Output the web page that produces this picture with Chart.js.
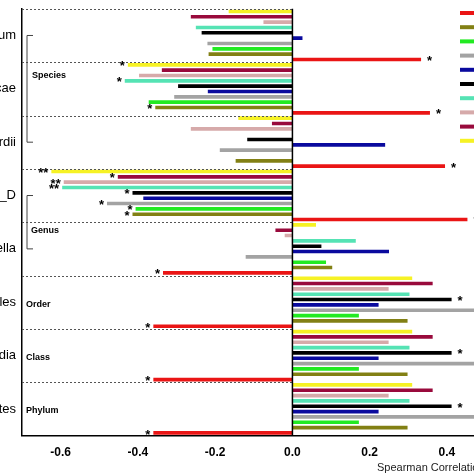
<!DOCTYPE html>
<html><head>
<script src="https://cdn.jsdelivr.net/npm/chart.js@4"></script>
<style>html,body{margin:0;padding:0;background:#fff}#wrap{width:474px;height:474px}</style>
</head><body>
<div id="wrap"><canvas id="grafico"></canvas></div>
<script>
const categorias = ["um", "cae", "rdii", "_D", "ella", "les", "dia", "tes"];
const grupos = [
  {label: "Species", from: 0, to: 2},
  {label: "Genus", from: 3, to: 4}
];
const nivelesSolos = [{label: "Order", at: 5}, {label: "Class", at: 6}, {label: "Phylum", at: 7}];

// series, orden de arriba hacia abajo dentro de cada grupo
const amarillo = [-0.165, -0.426, -0.14, -0.624, 0.061, 0.31, 0.31, 0.31];
const granate  = [-0.263, -0.338, -0.053, -0.452, -0.044, 0.363, 0.363, 0.363];
const rosa     = [-0.075, -0.397, -0.263, -0.592, -0.02, 0.249, 0.249, 0.249];
const turquesa = [-0.25, -0.434, 0, -0.596, 0.164, 0.303, 0.303, 0.303];
const negro    = [-0.235, -0.296, -0.117, -0.414, 0.075, 0.412, 0.412, 0.412];
const azul     = [0.026, -0.219, 0.24, -0.386, 0.25, 0.223, 0.223, 0.223];
const gris     = [-0.22, -0.306, -0.188, -0.48, -0.121, 0.5, 0.5, 0.5];
const verde    = [-0.207, -0.372, 0, -0.406, 0.087, 0.172, 0.172, 0.172];
const oliva    = [-0.217, -0.355, -0.147, -0.414, 0.103, 0.298, 0.298, 0.298];
const rojo     = [0.333, 0.356, 0.395, 0.453, -0.335, -0.36, -0.36, -0.36];

const sigAmarillo = ["", "*", "", "**", "", "", "", ""];
const sigGranate  = ["", "", "", "*", "", "", "", ""];
const sigRosa     = ["", "", "", "**", "", "", "", ""];
const sigTurquesa = ["", "*", "", "**", "", "", "", ""];
const sigNegro    = ["", "", "", "*", "", "*", "*", "*"];
const sigAzul     = ["", "", "", "", "", "", "", ""];
const sigGris     = ["", "", "", "*", "", "", "", ""];
const sigVerde    = ["", "", "", "*", "", "", "", ""];
const sigOliva    = ["", "*", "", "*", "", "", "", ""];
const sigRojo     = ["*", "*", "*", "*", "*", "*", "*", "*"];

const xTicks = [-0.6, -0.4, -0.2, 0.0, 0.2, 0.4];

const series = [
  {data: amarillo, sig: sigAmarillo, color: "#f6f224"},
  {data: granate, sig: sigGranate, color: "#990a3c"},
  {data: rosa, sig: sigRosa, color: "#d6aaaa"},
  {data: turquesa, sig: sigTurquesa, color: "#55e3b4"},
  {data: negro, sig: sigNegro, color: "#000000"},
  {data: azul, sig: sigAzul, color: "#0a0a9e"},
  {data: gris, sig: sigGris, color: "#a3a3a3"},
  {data: verde, sig: sigVerde, color: "#22ea22"},
  {data: oliva, sig: sigOliva, color: "#828014"},
  {data: rojo, sig: sigRojo, color: "#ea1515"}
];
const ordenLeyenda = [9, 8, 7, 6, 5, 4, 3, 2, 1, 0];

const extras = {
  id: "extras",
  afterDatasetsDraw(chart) {
    const ctx = chart.ctx, a = chart.chartArea;
    const x = chart.scales.x, y = chart.scales.y;
    const x0 = x.getPixelForValue(0);
    ctx.save();
    // lineas punteadas entre grupos
    ctx.strokeStyle = "#555"; ctx.lineWidth = 1; ctx.setLineDash([2, 2]);
    for (let i = 0; i < categorias.length; i++) {
      const yy = Math.round(y.getPixelForValue(i) - (y.getPixelForValue(1) - y.getPixelForValue(0)) / 2) + 0.5;
      ctx.beginPath(); ctx.moveTo(a.left, yy); ctx.lineTo(x0, yy); ctx.stroke();
    }
    ctx.setLineDash([]);
    // linea cero
    ctx.strokeStyle = "#000"; ctx.lineWidth = 1.5;
    ctx.beginPath(); ctx.moveTo(x0, a.top); ctx.lineTo(x0, a.bottom); ctx.stroke();
    // asteriscos
    ctx.fillStyle = "#000"; ctx.font = "bold 13px Arial"; ctx.textBaseline = "middle";
    series.forEach((s, di) => {
      const meta = chart.getDatasetMeta(di);
      meta.data.forEach((bar, i) => {
        const t = s.sig[i]; if (!t) return;
        if (s.data[i] < 0) { ctx.textAlign = "right"; ctx.fillText(t, bar.x - 3, bar.y + 2); }
        else { ctx.textAlign = "left"; ctx.fillText(t, bar.x + 6, bar.y + 2); }
      });
    });
    // corchetes
    ctx.strokeStyle = "#444"; ctx.lineWidth = 1;
    ctx.font = "bold 9px Arial"; ctx.textAlign = "left";
    grupos.forEach(g => {
      const y1 = y.getPixelForValue(g.from), y2 = y.getPixelForValue(g.to);
      ctx.beginPath();
      ctx.moveTo(a.left + 11, y1); ctx.lineTo(a.left + 5, y1); ctx.lineTo(a.left + 5, y2); ctx.lineTo(a.left + 11, y2);
      ctx.stroke();
    });
    ctx.fillText("Species", a.left + 10, y.getPixelForValue(0.75));
    ctx.fillText("Genus", a.left + 9, y.getPixelForValue(3.65));
    nivelesSolos.forEach(n => ctx.fillText(n.label, a.left + 4, y.getPixelForValue(n.at) + 2));
    // leyenda
    ordenLeyenda.forEach((di, k) => {
      ctx.fillStyle = series[di].color;
      ctx.fillRect(460, 11 + k * 14.2, 20, 4);
    });
    // titulo eje
    ctx.fillStyle = "#222"; ctx.font = "11px Arial"; ctx.textAlign = "left"; ctx.textBaseline = "alphabetic";
    ctx.fillText("Spearman Correlation", 377, 471);
    ctx.restore();
  }
};

new Chart(document.getElementById("grafico"), {
  type: "bar",
  data: {
    labels: categorias,
    datasets: series.map(s => ({data: s.data, backgroundColor: s.color, barPercentage: 0.68, categoryPercentage: 1}))
  },
  options: {
    indexAxis: "y",
    responsive: true, maintainAspectRatio: false, animation: false,
    layout: {padding: {top: 0, right: 0, bottom: 12, left: 0}},
    plugins: {legend: {display: false}, tooltip: {enabled: false}},
    scales: {
      x: {
        min: -0.7, max: 0.47,
        grid: {display: false, drawTicks: true},
        border: {color: "#000", width: 1.5},
        afterBuildTicks: ax => { ax.ticks = xTicks.map(v => ({value: v})); },
        ticks: {color: "#000", font: {family: "Arial", size: 12, weight: "bold"}, callback: v => v.toFixed(1), padding: 2}
      },
      y: {
        grid: {display: false, drawTicks: true, tickLength: 5, tickColor: "#000"},
        border: {color: "#000", width: 1.5},
        afterFit: ax => { ax.width = 22; },
        ticks: {color: "#000", font: {family: "Arial", size: 13}, padding: 1}
      }
    }
  },
  plugins: [extras]
});
</script>
</body></html>
